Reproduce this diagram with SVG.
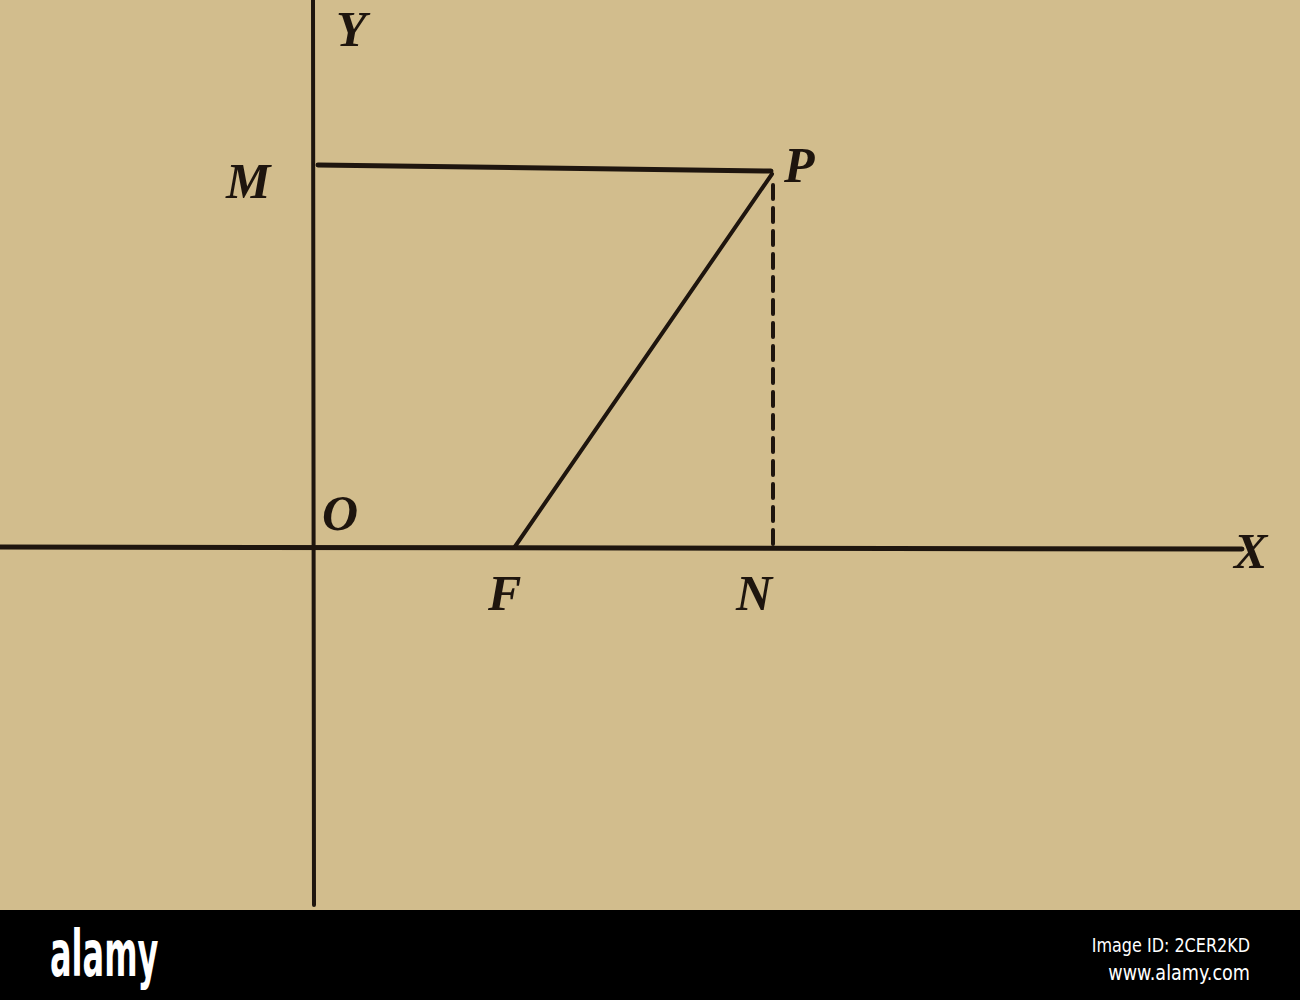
<svg xmlns="http://www.w3.org/2000/svg" width="1300" height="1000" viewBox="0 0 1300 1000">
<style>
.ln{stroke:#1e150e;fill:none;stroke-linecap:round}
.lb{font-family:"Liberation Serif",serif;font-style:italic;font-weight:bold;font-size:50px;fill:#1e150e}
.wm{font-family:"DejaVu Sans","Liberation Sans",sans-serif;fill:#fff}
</style>
<rect width="1300" height="1000" fill="#d2bd8d"/>
<g id="connectors">
<line class="ln" x1="313" y1="0" x2="314" y2="905" stroke-width="4"/>
<line class="ln" x1="0" y1="547" x2="1242" y2="549" stroke-width="5"/>
<line class="ln" x1="318" y1="165" x2="771" y2="171" stroke-width="5"/>
<line class="ln" x1="772" y1="174" x2="514" y2="548" stroke-width="4"/>
<line class="ln" x1="773" y1="185" x2="773" y2="546" stroke-width="4" stroke-dasharray="14,9" stroke-linecap="butt"/>
</g>
<g id="Y"><text class="lb" x="336" y="46" font-size="46">Y</text></g>
<g id="M"><text class="lb" x="226" y="198">M</text></g>
<g id="P"><text class="lb" x="784" y="182">P</text></g>
<g id="O"><text class="lb" x="322" y="530" font-weight="normal" font-size="44">O</text></g>
<g id="F"><text class="lb" x="488" y="610">F</text></g>
<g id="N"><text class="lb" x="736" y="610">N</text></g>
<g id="X"><text class="lb" x="1234" y="568">X</text></g>
<g id="footer">
<rect x="0" y="910" width="1300" height="90" fill="#000"/>
<text class="wm" font-size="64" font-weight="bold" transform="translate(50 976) scale(0.5 1)">alamy</text>
<text class="wm" font-size="20" text-anchor="end" transform="translate(1250 952) scale(0.8 1)">Image ID: 2CER2KD</text>
<text class="wm" font-size="22" text-anchor="end" transform="translate(1250 980) scale(0.8 1)">www.alamy.com</text>
</g>
</svg>
